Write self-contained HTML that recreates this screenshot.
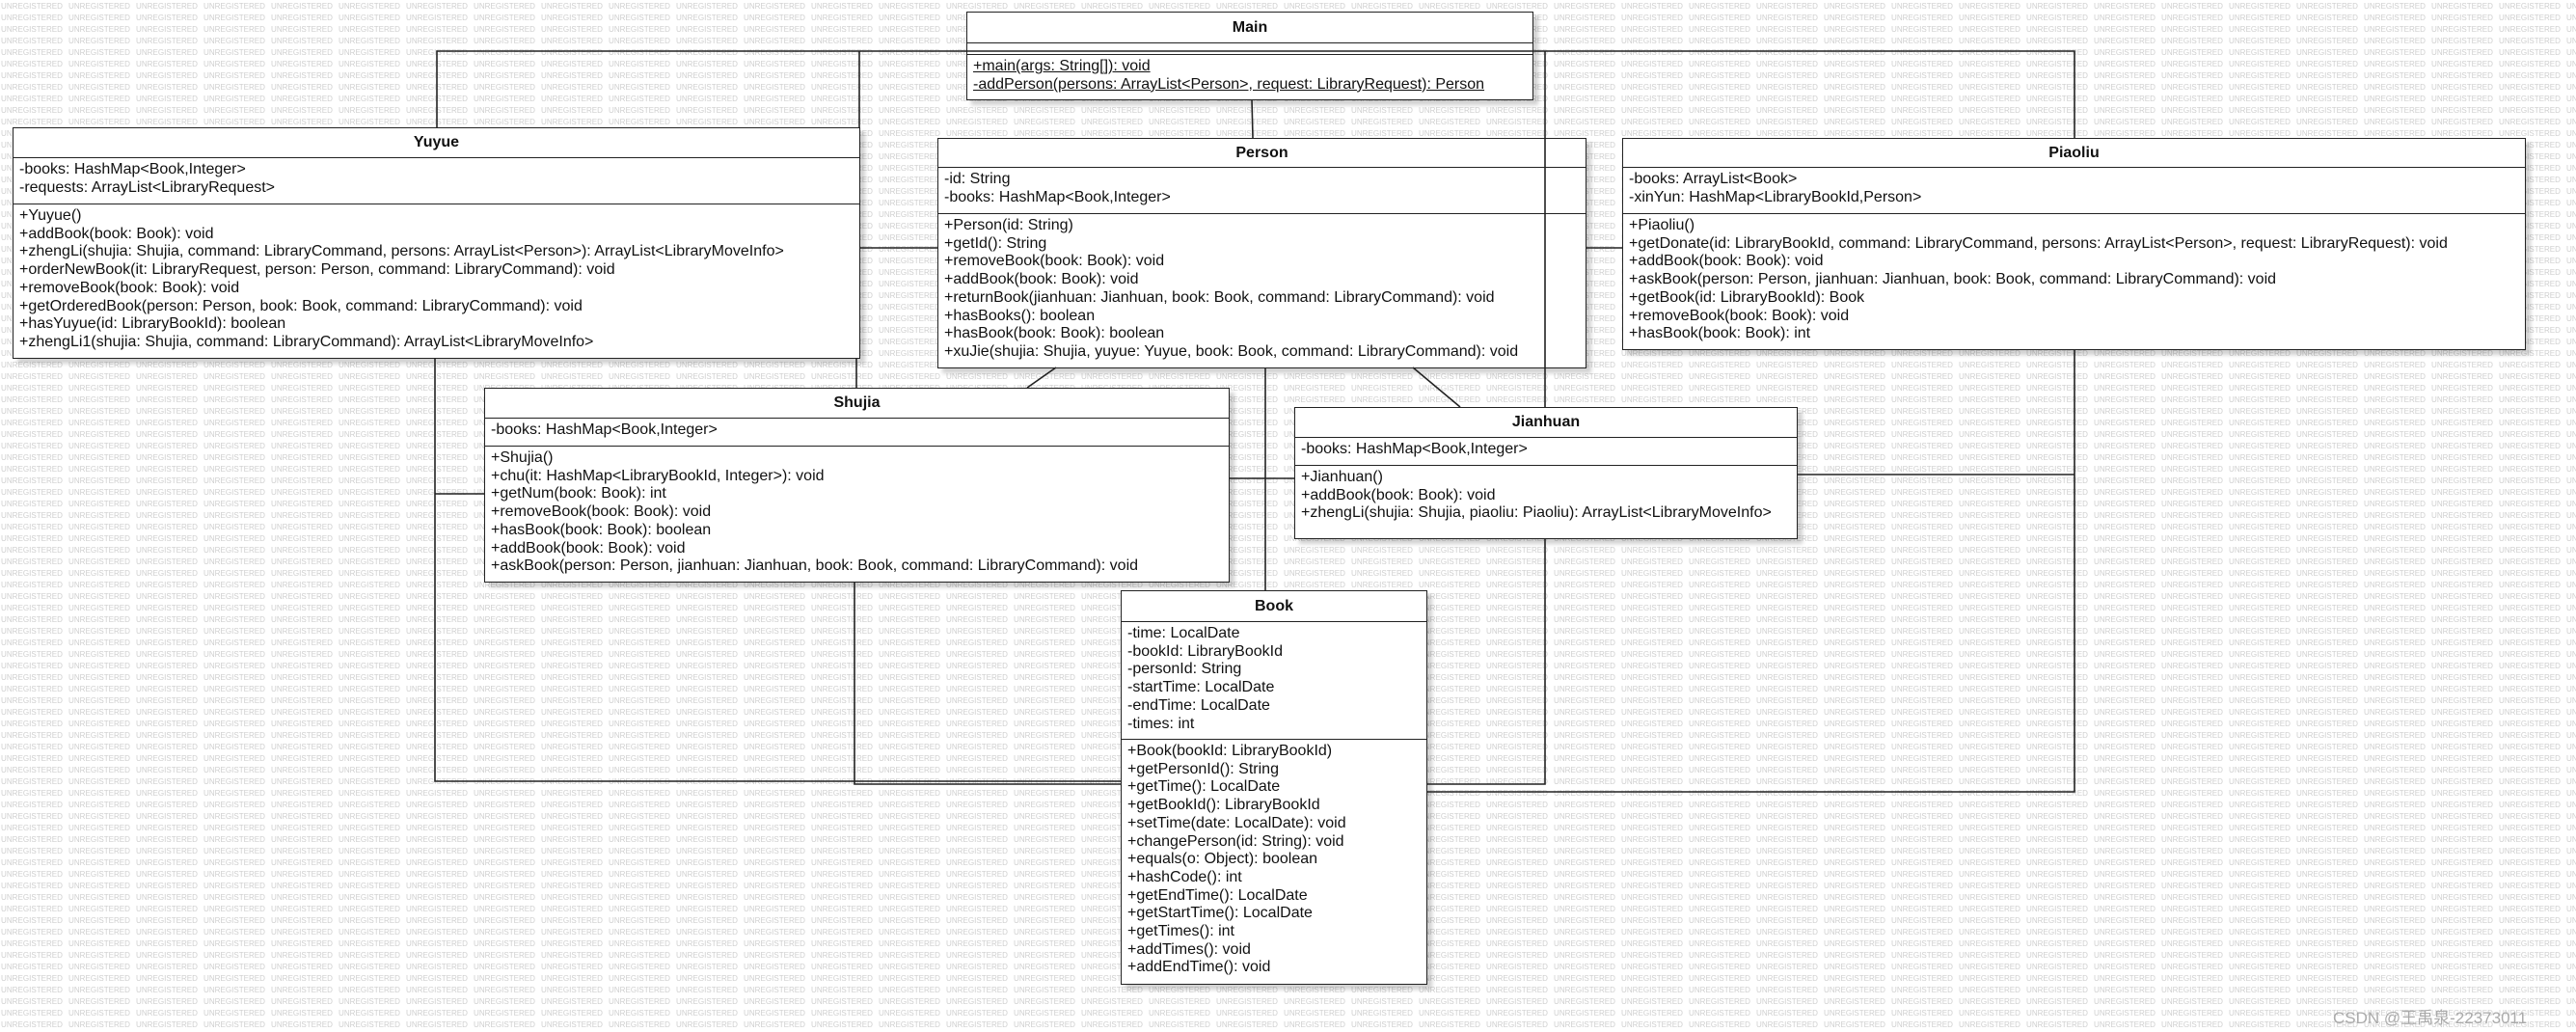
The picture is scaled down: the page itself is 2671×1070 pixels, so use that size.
<!DOCTYPE html>
<html><head><meta charset="utf-8">
<style>
html,body{margin:0;padding:0;}
body{width:2671px;height:1070px;position:relative;overflow:hidden;background:#fff;font-family:"Liberation Sans",Arial,sans-serif;color:#111;}
.bg{position:absolute;left:0;top:0;}
.box{position:absolute;background:#fff;border:1.5px solid #222;box-sizing:border-box;box-shadow:5px 5px 4px rgba(0,0,0,0.18);}
.hd{font-weight:bold;font-size:16px;text-align:center;border-bottom:1.5px solid #222;box-sizing:border-box;display:flex;align-items:center;justify-content:center;}
.sec{box-sizing:border-box;padding:3px 6px 0 6px;font-size:16px;line-height:18.7px;white-space:nowrap;}
.sec.b{border-bottom:1.5px solid #222;}
u{text-decoration:underline;}
.wm{position:absolute;left:2419px;top:1041px;font-size:17px;color:#aaa;font-family:"Liberation Sans","Noto Sans CJK SC",sans-serif;}
</style></head><body>
<svg class="bg" width="2671" height="1070">
<defs><pattern id="p" width="70" height="12" patternUnits="userSpaceOnUse">
<text x="1" y="9" font-size="8" textLength="64" lengthAdjust="spacingAndGlyphs" fill="#cfcfcf" font-family="Liberation Sans,sans-serif">UNREGISTERED</text>
</pattern></defs>
<rect width="2671" height="1070" fill="url(#p)"/>
</svg>

<!-- Main -->
<div class="box" style="left:1002px;top:12px;width:588px;height:92px;">
<div class="hd" style="height:32px;">Main</div>
<div class="sec b" style="height:12px;padding:0"></div>
<div class="sec" style="padding-top:3px"><u>+main(args: String[]): void</u><br><u>-addPerson(persons: ArrayList&lt;Person&gt;, request: LibraryRequest): Person</u></div>
</div>

<!-- Yuyue -->
<div class="box" style="left:13px;top:132px;width:879px;height:240px;">
<div class="hd" style="height:31px;">Yuyue</div>
<div class="sec b" style="height:48px;">-books: HashMap&lt;Book,Integer&gt;<br>-requests: ArrayList&lt;LibraryRequest&gt;</div>
<div class="sec">+Yuyue()<br>+addBook(book: Book): void<br>+zhengLi(shujia: Shujia, command: LibraryCommand, persons: ArrayList&lt;Person&gt;): ArrayList&lt;LibraryMoveInfo&gt;<br>+orderNewBook(it: LibraryRequest, person: Person, command: LibraryCommand): void<br>+removeBook(book: Book): void<br>+getOrderedBook(person: Person, book: Book, command: LibraryCommand): void<br>+hasYuyue(id: LibraryBookId): boolean<br>+zhengLi1(shujia: Shujia, command: LibraryCommand): ArrayList&lt;LibraryMoveInfo&gt;</div>
</div>

<!-- Person -->
<div class="box" style="left:972px;top:143px;width:673px;height:239px;">
<div class="hd" style="height:30px;">Person</div>
<div class="sec b" style="height:48px;">-id: String<br>-books: HashMap&lt;Book,Integer&gt;</div>
<div class="sec">+Person(id: String)<br>+getId(): String<br>+removeBook(book: Book): void<br>+addBook(book: Book): void<br>+returnBook(jianhuan: Jianhuan, book: Book, command: LibraryCommand): void<br>+hasBooks(): boolean<br>+hasBook(book: Book): boolean<br>+xuJie(shujia: Shujia, yuyue: Yuyue, book: Book, command: LibraryCommand): void</div>
</div>

<!-- Piaoliu -->
<div class="box" style="left:1682px;top:143px;width:937px;height:220px;">
<div class="hd" style="height:30px;">Piaoliu</div>
<div class="sec b" style="height:48px;">-books: ArrayList&lt;Book&gt;<br>-xinYun: HashMap&lt;LibraryBookId,Person&gt;</div>
<div class="sec">+Piaoliu()<br>+getDonate(id: LibraryBookId, command: LibraryCommand, persons: ArrayList&lt;Person&gt;, request: LibraryRequest): void<br>+addBook(book: Book): void<br>+askBook(person: Person, jianhuan: Jianhuan, book: Book, command: LibraryCommand): void<br>+getBook(id: LibraryBookId): Book<br>+removeBook(book: Book): void<br>+hasBook(book: Book): int</div>
</div>

<!-- Shujia -->
<div class="box" style="left:502px;top:402px;width:773px;height:202px;">
<div class="hd" style="height:31px;">Shujia</div>
<div class="sec b" style="height:29px;">-books: HashMap&lt;Book,Integer&gt;</div>
<div class="sec">+Shujia()<br>+chu(it: HashMap&lt;LibraryBookId, Integer&gt;): void<br>+getNum(book: Book): int<br>+removeBook(book: Book): void<br>+hasBook(book: Book): boolean<br>+addBook(book: Book): void<br>+askBook(person: Person, jianhuan: Jianhuan, book: Book, command: LibraryCommand): void</div>
</div>

<!-- Jianhuan -->
<div class="box" style="left:1342px;top:422px;width:522px;height:137px;">
<div class="hd" style="height:31px;">Jianhuan</div>
<div class="sec b" style="height:29px;">-books: HashMap&lt;Book,Integer&gt;</div>
<div class="sec">+Jianhuan()<br>+addBook(book: Book): void<br>+zhengLi(shujia: Shujia, piaoliu: Piaoliu): ArrayList&lt;LibraryMoveInfo&gt;</div>
</div>

<!-- Book -->
<div class="box" style="left:1162px;top:612px;width:318px;height:409px;">
<div class="hd" style="height:32px;">Book</div>
<div class="sec b" style="height:122px;">-time: LocalDate<br>-bookId: LibraryBookId<br>-personId: String<br>-startTime: LocalDate<br>-endTime: LocalDate<br>-times: int</div>
<div class="sec">+Book(bookId: LibraryBookId)<br>+getPersonId(): String<br>+getTime(): LocalDate<br>+getBookId(): LibraryBookId<br>+setTime(date: LocalDate): void<br>+changePerson(id: String): void<br>+equals(o: Object): boolean<br>+hashCode(): int<br>+getEndTime(): LocalDate<br>+getStartTime(): LocalDate<br>+getTimes(): int<br>+addTimes(): void<br>+addEndTime(): void</div>
</div>

<svg class="bg" width="2671" height="1070" style="pointer-events:none">
<g stroke="#222" stroke-width="1.6" fill="none">
<polyline points="453,132 453,53 2151,53 2151,143"/>
<line x1="891" y1="53" x2="891" y2="132"/>
<line x1="1602" y1="53" x2="1602" y2="422"/>
<polyline points="1602,559 1602,813 1480,813"/>
<line x1="1298" y1="103" x2="1299" y2="143"/>
<line x1="891" y1="257" x2="972" y2="257"/>
<line x1="1644" y1="257" x2="1682" y2="257"/>
<line x1="1095" y1="381" x2="1065" y2="402"/>
<line x1="1465" y1="381" x2="1514" y2="422"/>
<line x1="1312" y1="381" x2="1312" y2="612"/>
<polyline points="451,371 451,810 1162,810"/>
<line x1="451" y1="512" x2="502" y2="512"/>
<line x1="888" y1="371" x2="888" y2="402"/>
<polyline points="886,603 886,813 1162,813"/>
<line x1="1274" y1="496" x2="1342" y2="496"/>
<polyline points="1863,492 2151,492"/>
<polyline points="2151,362 2151,821 1480,821"/>
</g></svg>
<div class="wm">CSDN @王禹泉-22373011</div>
</body></html>
